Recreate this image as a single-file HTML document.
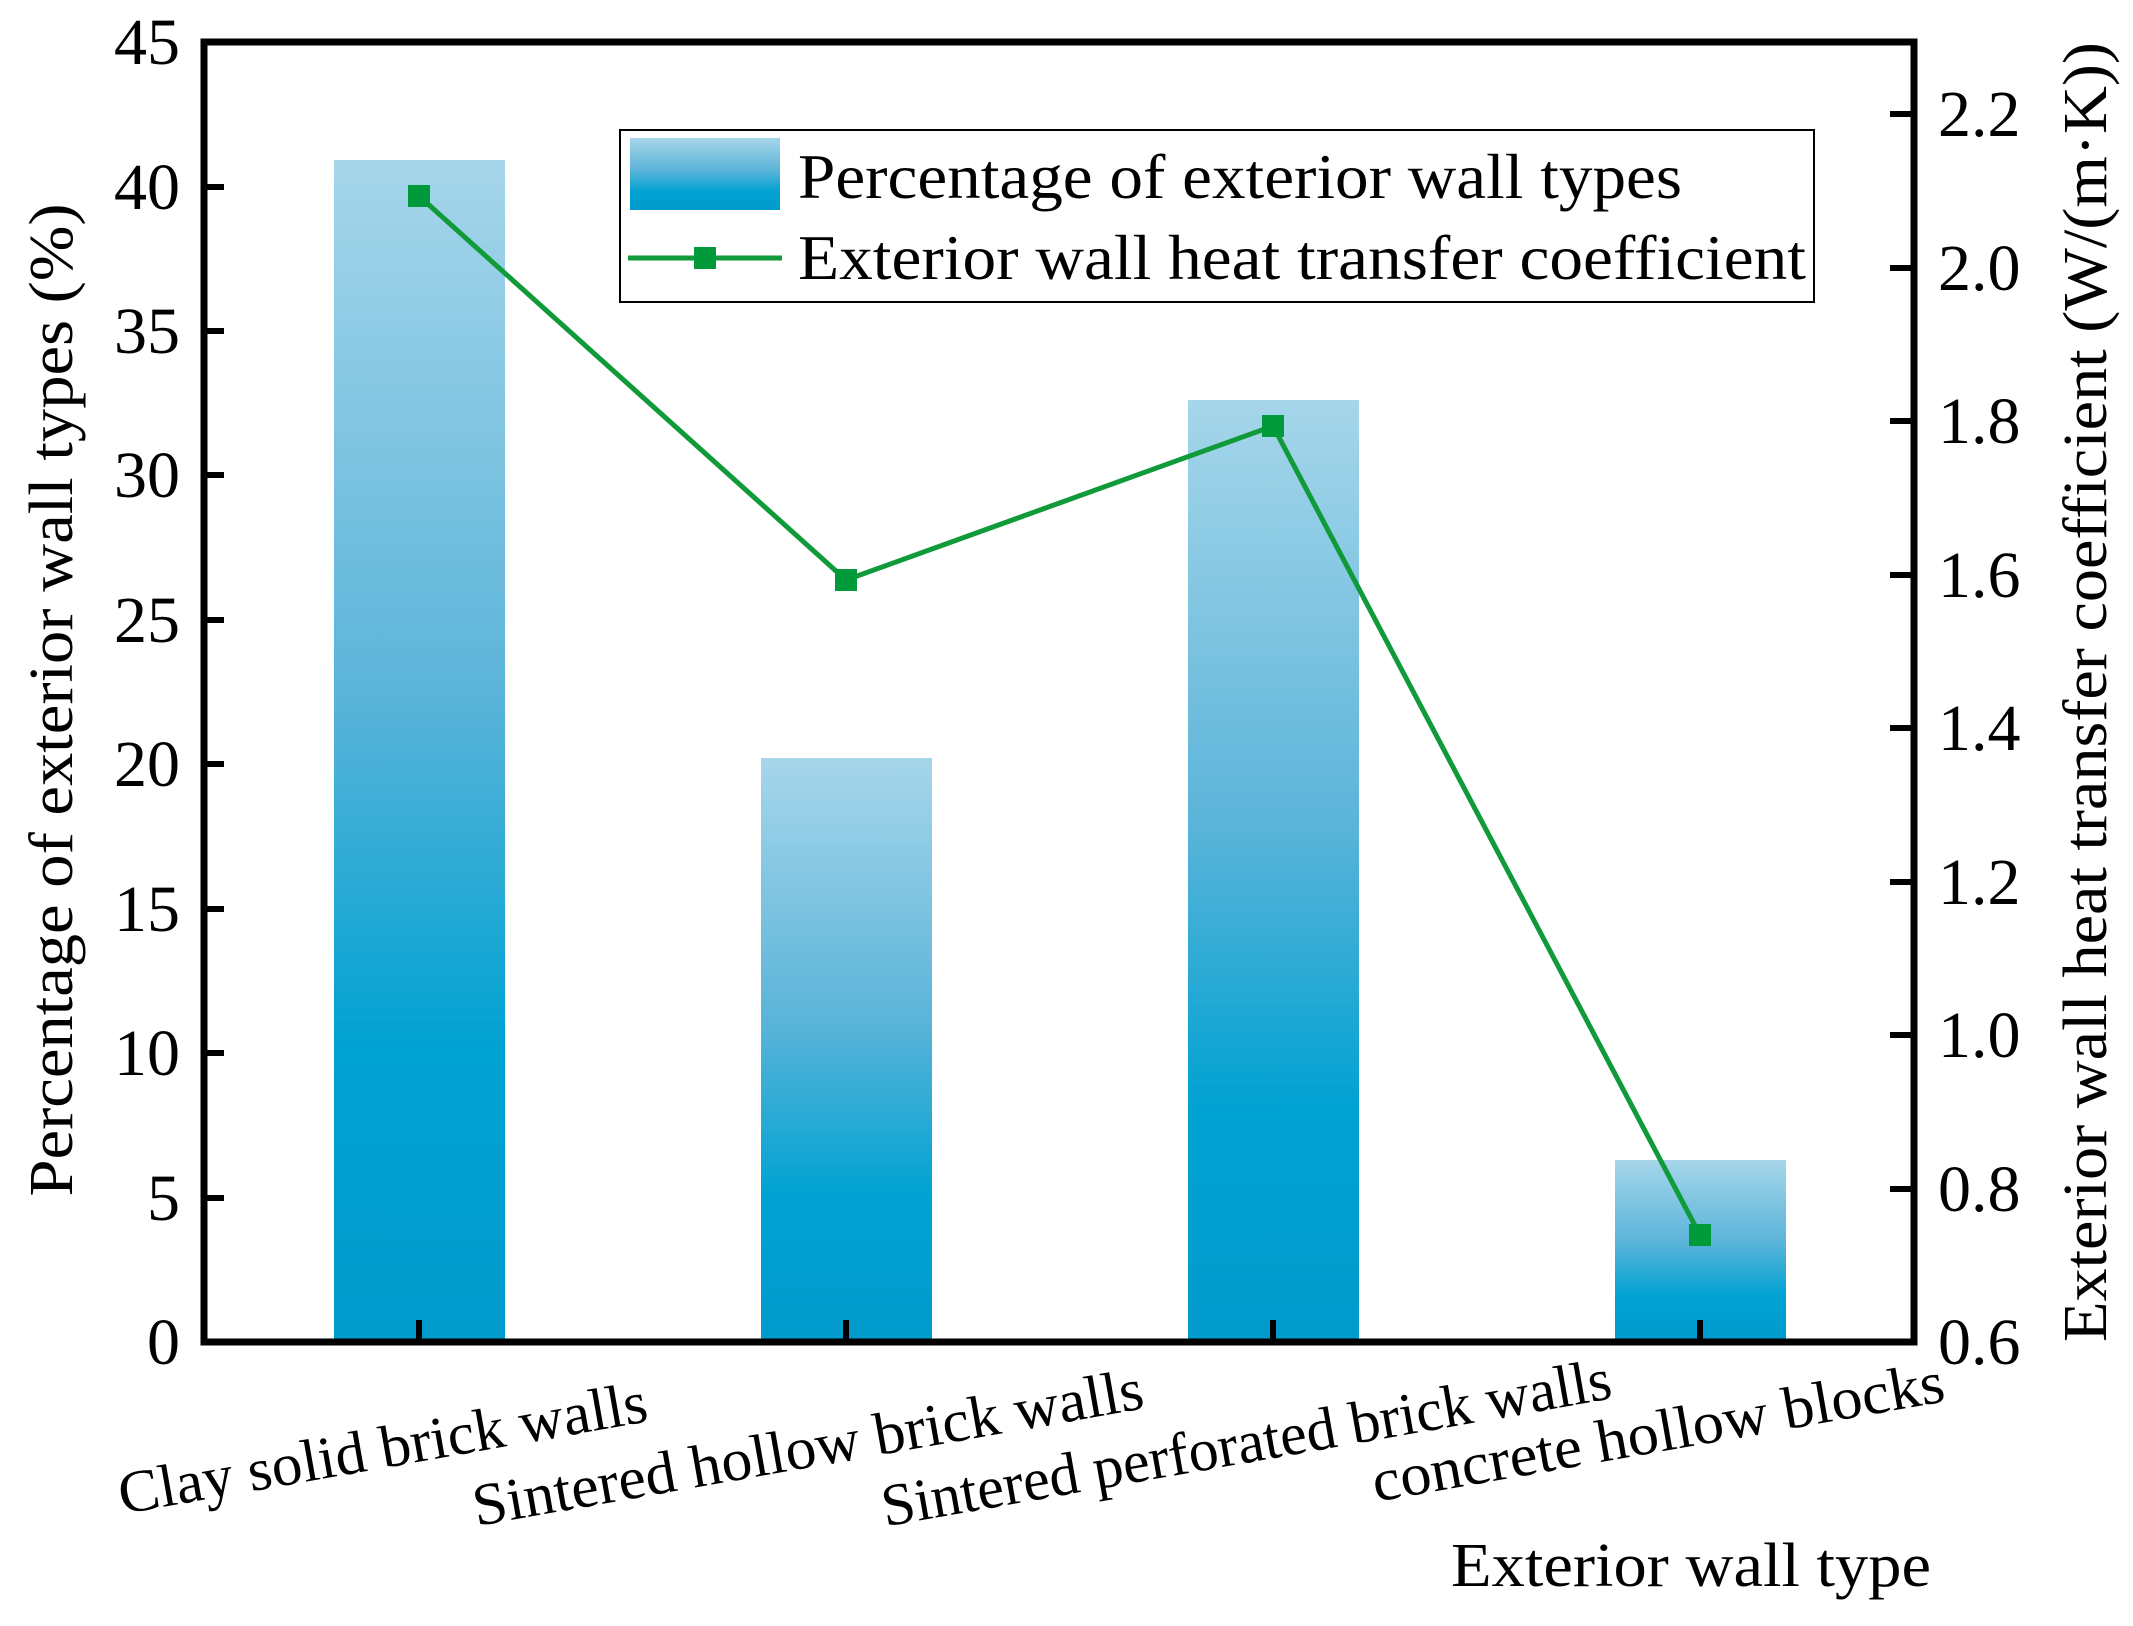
<!DOCTYPE html>
<html><head><meta charset="utf-8"><style>body{margin:0;background:#fff}svg{display:block}</style></head><body>
<svg width="2133" height="1626" xmlns="http://www.w3.org/2000/svg" font-family="Liberation Serif, serif">
<defs>
<linearGradient id="g" x1="0" y1="1" x2="0" y2="0">
<stop offset="0" stop-color="#009ACB"/><stop offset="0.25" stop-color="#00A2D2"/><stop offset="0.55" stop-color="#5BB4D9"/><stop offset="1" stop-color="#A6D6EA"/>
</linearGradient>
</defs>
<rect x="334" y="160" width="171" height="1182" fill="url(#g)"/>
<rect x="761" y="758" width="171" height="584" fill="url(#g)"/>
<rect x="1188" y="400" width="171" height="942" fill="url(#g)"/>
<rect x="1615" y="1160" width="171" height="182" fill="url(#g)"/>
<polyline points="419,196 846,580 1273,426 1700,1235" fill="none" stroke="#109A3A" stroke-width="5"/>
<g fill="#009A3A"><rect x="408" y="185" width="22" height="22"/><rect x="835" y="569" width="22" height="22"/><rect x="1262" y="415" width="22" height="22"/><rect x="1689" y="1224" width="22" height="22"/></g>
<rect x="204" y="42" width="1710" height="1300" fill="none" stroke="#000" stroke-width="7"/>
<g stroke="#000" stroke-width="6">
<line x1="419" y1="1342" x2="419" y2="1320"/><line x1="846" y1="1342" x2="846" y2="1320"/><line x1="1273" y1="1342" x2="1273" y2="1320"/><line x1="1700" y1="1342" x2="1700" y2="1320"/>
<line x1="204" y1="1198" x2="224" y2="1198"/><line x1="204" y1="1053" x2="224" y2="1053"/><line x1="204" y1="909" x2="224" y2="909"/><line x1="204" y1="764" x2="224" y2="764"/><line x1="204" y1="620" x2="224" y2="620"/><line x1="204" y1="475" x2="224" y2="475"/><line x1="204" y1="331" x2="224" y2="331"/><line x1="204" y1="187" x2="224" y2="187"/>
<line x1="1914" y1="1189" x2="1890" y2="1189"/><line x1="1914" y1="1035" x2="1890" y2="1035"/><line x1="1914" y1="882" x2="1890" y2="882"/><line x1="1914" y1="728" x2="1890" y2="728"/><line x1="1914" y1="575" x2="1890" y2="575"/><line x1="1914" y1="421" x2="1890" y2="421"/><line x1="1914" y1="268" x2="1890" y2="268"/><line x1="1914" y1="114" x2="1890" y2="114"/>
</g>
<g font-size="66" text-anchor="end">
<text x="180" y="1364">0</text><text x="180" y="1220">5</text><text x="180" y="1075">10</text><text x="180" y="931">15</text><text x="180" y="786">20</text><text x="180" y="642">25</text><text x="180" y="497">30</text><text x="180" y="353">35</text><text x="180" y="209">40</text><text x="180" y="64">45</text>
</g>
<g font-size="66">
<text x="1938" y="1364">0.6</text><text x="1938" y="1211">0.8</text><text x="1938" y="1057">1.0</text><text x="1938" y="904">1.2</text><text x="1938" y="750">1.4</text><text x="1938" y="597">1.6</text><text x="1938" y="443">1.8</text><text x="1938" y="290">2.0</text><text x="1938" y="136">2.2</text>
</g>
<text transform="translate(72,700) rotate(-90)" font-size="62" text-anchor="middle" textLength="993" lengthAdjust="spacingAndGlyphs">Percentage of exterior wall types (%)</text>
<text transform="translate(2106,692) rotate(-90)" font-size="62" text-anchor="middle" textLength="1300" lengthAdjust="spacingAndGlyphs">Exterior wall heat transfer coefficient (W/(m·K))</text>
<rect x="620" y="130" width="1194" height="172" fill="#fff" stroke="#000" stroke-width="2"/>
<rect x="630" y="138" width="150" height="72" fill="url(#g)"/>
<line x1="628" y1="258" x2="782" y2="258" stroke="#109A3A" stroke-width="5"/>
<rect x="694" y="247" width="22" height="22" fill="#009A3A"/>
<text x="798" y="198" font-size="64" textLength="884" lengthAdjust="spacingAndGlyphs">Percentage of exterior wall types</text>
<text x="798" y="279" font-size="64" textLength="1008" lengthAdjust="spacingAndGlyphs">Exterior wall heat transfer coefficient</text>
<g font-size="60" text-anchor="end">
<text transform="translate(650,1421) rotate(-10)" textLength="536" lengthAdjust="spacingAndGlyphs">Clay solid brick walls</text>
<text transform="translate(1146,1408) rotate(-10)" textLength="680" lengthAdjust="spacingAndGlyphs">Sintered hollow brick walls</text>
<text transform="translate(1614,1398) rotate(-10)" textLength="740" lengthAdjust="spacingAndGlyphs">Sintered perforated brick walls</text>
<text transform="translate(1947,1401) rotate(-10)" textLength="580" lengthAdjust="spacingAndGlyphs">concrete hollow blocks</text>
</g>
<text x="1451" y="1586" font-size="62" textLength="480" lengthAdjust="spacingAndGlyphs">Exterior wall type</text>
</svg>
</body></html>
